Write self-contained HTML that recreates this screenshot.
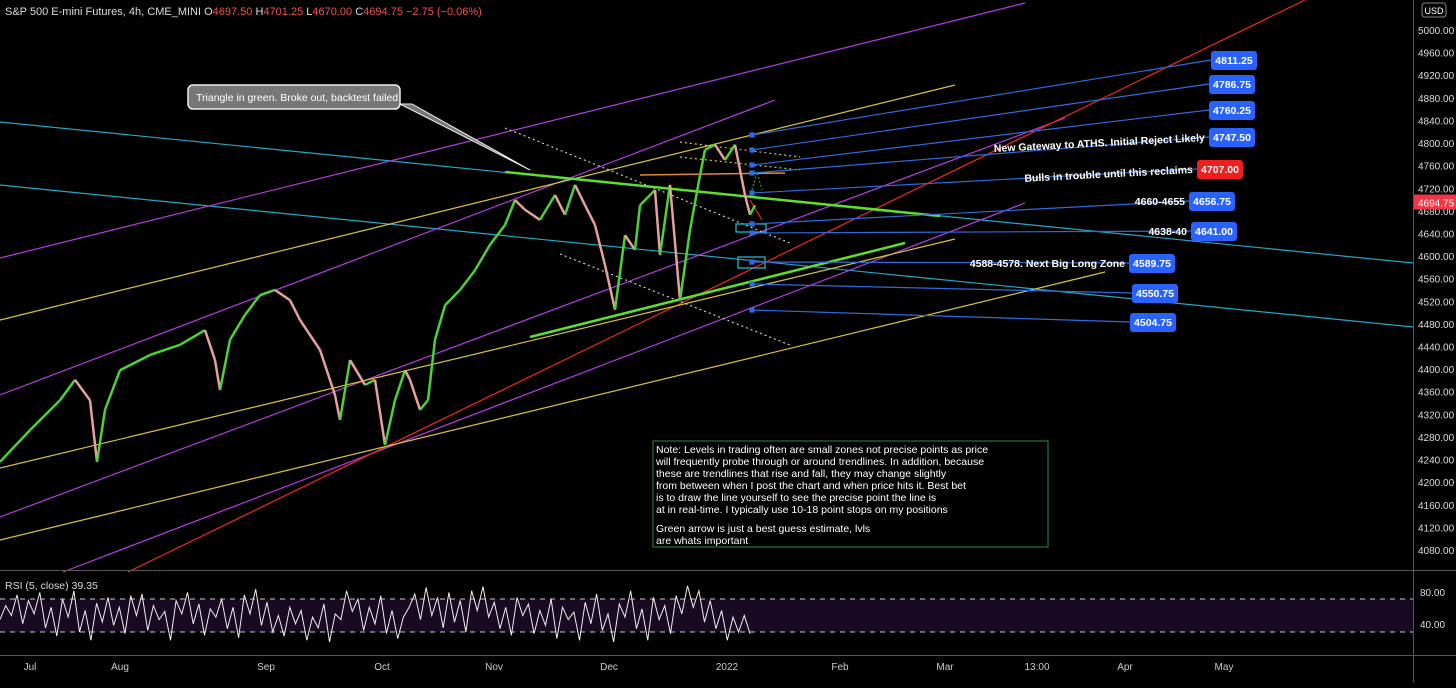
<!DOCTYPE html>
<html><head><meta charset="utf-8">
<style>
html,body{margin:0;padding:0;background:#000;}
body{width:1456px;height:683px;overflow:hidden;position:relative;font-family:"Liberation Sans",sans-serif;}
svg text{font-family:"Liberation Sans",sans-serif;}
</style></head>
<body>
<svg id="chart" width="1456" height="683" viewBox="0 0 1456 683" xmlns="http://www.w3.org/2000/svg">
<rect x="0" y="0" width="1456" height="683" fill="#000"/>
<g id="drawings" fill="none" stroke-width="1.2">
  <line x1="0" y1="122" x2="1413" y2="263" stroke="#26a6c8"/>
  <line x1="0" y1="185" x2="1413" y2="327" stroke="#26a6c8"/>
  <line x1="0" y1="258" x2="1025" y2="3" stroke="#b33ee0"/>
  <line x1="0" y1="395" x2="775" y2="100" stroke="#b33ee0"/>
  <line x1="0" y1="517" x2="1065" y2="118" stroke="#b33ee0"/>
  <line x1="63" y1="572" x2="1025" y2="203" stroke="#b33ee0"/>
  <line x1="128" y1="572" x2="1305" y2="0" stroke="#f0291e"/>
  <line x1="0" y1="320" x2="955" y2="85" stroke="#d9c33a"/>
  <line x1="0" y1="468" x2="955" y2="239" stroke="#d9c33a"/>
  <line x1="0" y1="540" x2="1105" y2="272" stroke="#d9c33a"/>
  <line x1="640" y1="175" x2="785" y2="173" stroke="#e08a2a" stroke-width="1.5"/>
  <line x1="505" y1="128" x2="790" y2="243" stroke="#ccc" stroke-dasharray="2,3"/>
  <line x1="560" y1="254" x2="790" y2="345" stroke="#ccc" stroke-dasharray="2,3"/>
  <line x1="680" y1="142" x2="800" y2="157" stroke="#d9c33a" stroke-dasharray="2,3"/>
  <line x1="680" y1="157" x2="800" y2="170" stroke="#d9c33a" stroke-dasharray="2,3"/>
  <line x1="505" y1="172" x2="940" y2="216" stroke="#5ee02a" stroke-width="2.5"/>
  <line x1="530" y1="337" x2="905" y2="243" stroke="#5ee02a" stroke-width="2.5"/>
  <path d="M752 190 L757 172 L762 190" stroke="#3a9a2a" stroke-dasharray="2,2"/>
  <line x1="750" y1="200" x2="762" y2="220" stroke="#f0291e"/>
  <rect x="736" y="224" width="30" height="8" stroke="#26c6da"/>
  <rect x="738" y="257" width="27" height="11" stroke="#26c6da"/>
</g>
<g id="levels" stroke="#2f6bde" stroke-width="1.2"></g>
<g id="price"></g>
<g id="labels"></g>

<g>
  <path d="M400 104 L530 170 L412 104 Z" fill="#777" stroke="#eee" stroke-width="1"/>
  <rect x="188" y="85" width="212" height="24" rx="5" fill="#777" stroke="#eee" stroke-width="1.5"/>
  <text x="196" y="101" fill="#fff" font-size="10.5">Triangle in green. Broke out, backtest failed</text>
</g>

<g>
  <rect x="653" y="441" width="395" height="106" fill="#000" stroke="#2e8b3a" stroke-width="1"/>
  <text fill="#fff" font-size="10.5">
    <tspan x="656" y="453">Note: Levels in trading often are small zones not precise points as price</tspan>
    <tspan x="656" y="465">will frequently probe through or around trendlines. In addition, because</tspan>
    <tspan x="656" y="477">these are trendlines that rise and fall, they may change slightly</tspan>
    <tspan x="656" y="489">from between when I post the chart and when price hits it. Best bet</tspan>
    <tspan x="656" y="501">is to draw the line yourself to see the precise point the line is</tspan>
    <tspan x="656" y="513">at in real-time. I typically use 10-18 point stops on my positions</tspan>
    <tspan x="656" y="532">Green arrow is just a best guess estimate, lvls</tspan>
    <tspan x="656" y="544">are whats important</tspan>
  </text>
</g>

<text x="5" y="15" font-size="11" fill="#ddd">S&amp;P 500 E-mini Futures, 4h, CME_MINI <tspan fill="#ddd">O</tspan><tspan fill="#ef5350">4697.50</tspan> <tspan fill="#ddd">H</tspan><tspan fill="#ef5350">4701.25</tspan> <tspan fill="#ddd">L</tspan><tspan fill="#ef5350">4670.00</tspan> <tspan fill="#ddd">C</tspan><tspan fill="#ef5350">4694.75 −2.75 (−0.06%)</tspan></text>

<g id="yaxis">
  <rect x="1414" y="0" width="42" height="683" fill="#000"/>
  <line x1="1413.5" y1="0" x2="1413.5" y2="683" stroke="#555"/>
</g>
<g id="rsi">
  <line x1="0" y1="570.5" x2="1456" y2="570.5" stroke="#555"/>
  <line x1="0" y1="655.5" x2="1456" y2="655.5" stroke="#555"/>
  <rect x="0" y="599" width="1413" height="33" fill="#170a22"/>
  <line x1="0" y1="599" x2="1413" y2="599" stroke="#ccc" stroke-dasharray="5,5"/>
  <line x1="0" y1="632" x2="1413" y2="632" stroke="#ccc" stroke-dasharray="5,5"/>
  <text x="5" y="589" font-size="10.5" fill="#ddd">RSI (5, close)  39.35</text>
  <text x="1420" y="596" font-size="10" fill="#ddd">80.00</text>
  <text x="1420" y="628" font-size="10" fill="#ddd">40.00</text>
</g>
<g id="xaxis"></g>
</svg>
<script>
// ---- data ----
const barIdx = [0,6,12,15,18,19.4,21,24,30,36,41,43,44,46,49,52,55,58,60,64,67,68,70,73,75,77,79,81,82,84,85.6,87,89,92,95,98,101,103,105,108,111,113,115,117,119,121,123,125,127,128,131,132,134,136,138,140,141,143,145,147,149,150,151];
const closes = [4236,4292,4345,4381,4345,4236,4328,4398,4425,4443,4469,4416,4363,4452,4496,4531,4540,4522,4487,4434,4354,4310,4416,4372,4381,4266,4345,4398,4381,4328,4345,4452,4513,4540,4575,4620,4655,4699,4682,4664,4708,4673,4726,4690,4655,4584,4505,4637,4611,4690,4717,4602,4726,4522,4646,4743,4788,4797,4770,4797,4708,4673,4690];
const yTicks = [5000,4960,4920,4880,4840,4800,4760,4720,4680,4640,4600,4560,4520,4480,4440,4400,4360,4320,4280,4240,4200,4160,4120,4080];
const monthLabels = ["Jul","Aug","Sep","Oct","Nov","Dec","2022","Feb","Mar","13:00","Apr","May"];
const monthBars = [6,24,53.2,76.4,98.8,121.8,145.4,168,189,207.4,225,244.8];
const levelValues = [4811.25,4786.75,4760.25,4747.50,4707.00,4656.75,4641.00,4589.75,4550.75,4504.75];
const levelNotes = ["","","","New Gateway to ATHS. Initial Reject Likely","Bulls in trouble until this reclaims","4660-4655","4638-40","4588-4578. Next Big Long Zone","",""];
const rsiValues = [55,72,60,85,50,78,62,88,45,70,35,80,58,90,40,66,30,75,52,82,48,70,38,84,60,86,42,72,55,65,30,78,62,88,50,74,36,68,58,80,44,70,33,85,62,92,48,76,40,60,35,70,50,66,30,58,45,74,28,62,55,90,65,80,42,70,50,84,38,66,32,58,70,86,55,94,60,82,45,88,52,78,40,90,66,95,58,76,44,70,36,82,60,74,38,66,48,80,32,70,55,64,30,76,50,86,42,62,28,74,58,90,44,68,30,82,55,72,38,84,62,96,70,90,52,78,44,66,30,58,40,60,38];
// ---- scales ----
const NS = 'http://www.w3.org/2000/svg';
function yScale(p){ return 30 + (5000 - p) * 0.5652; }
function xScale(b){ return b * 5; }
function rsiY(v){ return 632 - (v - 40) * 33 / 40; }
function rsiX(i){ return i * 750 / (rsiValues.length - 1); }
function mk(tag, parent){ const e=document.createElementNS(NS,tag); parent.appendChild(e); return e; }

const pg = document.getElementById('price');
for (let i=1;i<closes.length;i++){
  const l = mk('line', pg);
  
  
  l.setAttribute('x1', xScale(barIdx[i-1])); l.setAttribute('y1', yScale(closes[i-1]));
  l.setAttribute('x2', xScale(barIdx[i])); l.setAttribute('y2', yScale(closes[i]));
  l.setAttribute('stroke', closes[i]>=closes[i-1] ? '#4cd137' : '#e6a0a0');
  l.setAttribute('stroke-width', '2.5');
}

const lg = document.getElementById('levels');
const lab = document.getElementById('labels');
const boxX = [1211,1209,1209,1209,1197,1189,1191,1129,1132,1130];
const anchorY = [135,150,165,173,193,224,233,262,284,310];
const labelY = [60,84,110,137,169,201,231,263,293,322];
for (let i=0;i<levelValues.length;i++){
  const v = levelValues[i];
  const ly = labelY[i];
  const sx = 752;
  const l = mk('line', lg);
  
  
  l.setAttribute('x1', sx); l.setAttribute('y1', anchorY[i]);
  l.setAttribute('x2', boxX[i]); l.setAttribute('y2', ly);
  const d = mk('rect', lg);
  
  
  d.setAttribute('x', sx-2); d.setAttribute('y', anchorY[i]-2); d.setAttribute('width',4); d.setAttribute('height',4); d.setAttribute('fill','#2f6bde');
  const r = mk('rect', lab);
  
  
  r.setAttribute('x', boxX[i]); r.setAttribute('y', ly-9); r.setAttribute('width', 46); r.setAttribute('height', 19); r.setAttribute('rx', 3);
  r.setAttribute('fill', i===4 ? '#f01e1e' : '#2962ff');
  const t = mk('text', lab);
  
  
  t.setAttribute('x', boxX[i]+23); t.setAttribute('y', ly+4); t.setAttribute('text-anchor','middle');
  t.setAttribute('font-size','10.5'); t.setAttribute('fill','#fff'); t.setAttribute('font-weight','bold');
  t.textContent = v.toFixed(2);
  if (levelNotes[i]){
    const n = mk('text', lab);
    
    
    n.setAttribute('x', boxX[i]-4); n.setAttribute('y', ly+4); n.setAttribute('text-anchor','end');
    n.setAttribute('font-size','10.5'); n.setAttribute('fill','#fff'); n.setAttribute('font-weight','bold');
    if (i===3 || i===4) n.setAttribute('transform','rotate(-3 '+(boxX[i]-4)+' '+(ly+4)+')');
    n.textContent = levelNotes[i];
  }
}

const ya = document.getElementById('yaxis');
for (const p of yTicks){
  const t = mk('text', ya);
  
  
  t.setAttribute('x', 1418); t.setAttribute('y', yScale(p)+4);
  t.setAttribute('font-size','10'); t.setAttribute('fill','#ddd');
  t.textContent = p.toFixed(2);
}
const tag = mk('rect', ya);


tag.setAttribute('x', 1414); tag.setAttribute('y', yScale(4694.75)-8); tag.setAttribute('width', 42); tag.setAttribute('height', 15); tag.setAttribute('fill', '#f23645');
const tt = mk('text', ya);


tt.setAttribute('x', 1418); tt.setAttribute('y', yScale(4694.75)+4); tt.setAttribute('font-size','10'); tt.setAttribute('fill','#fff');
tt.textContent = '4694.75';
const ub = mk('rect', ya);


ub.setAttribute('x', 1422); ub.setAttribute('y', 3); ub.setAttribute('width', 24); ub.setAttribute('height', 14); ub.setAttribute('rx', 3);
ub.setAttribute('fill', '#000'); ub.setAttribute('stroke', '#888');
const ut = mk('text', ya);


ut.setAttribute('x', 1434); ut.setAttribute('y', 14); ut.setAttribute('text-anchor','middle'); ut.setAttribute('font-size','9'); ut.setAttribute('fill','#fff');
ut.textContent = 'USD';

const rg = document.getElementById('rsi');
const rl = mk('polyline', rg);


rl.setAttribute('points', rsiValues.map((v,i)=>rsiX(i).toFixed(1)+','+rsiY(v).toFixed(1)).join(' '));
rl.setAttribute('fill','none'); rl.setAttribute('stroke','#eee'); rl.setAttribute('stroke-width','1');

const xa = document.getElementById('xaxis');
for (let i=0;i<monthLabels.length;i++){
  const t = mk('text', xa);
  
  
  t.setAttribute('x', xScale(monthBars[i])); t.setAttribute('y', 670); t.setAttribute('text-anchor','middle');
  t.setAttribute('font-size','10'); t.setAttribute('fill','#ccc');
  t.textContent = monthLabels[i];
}
</script>
</body></html>
